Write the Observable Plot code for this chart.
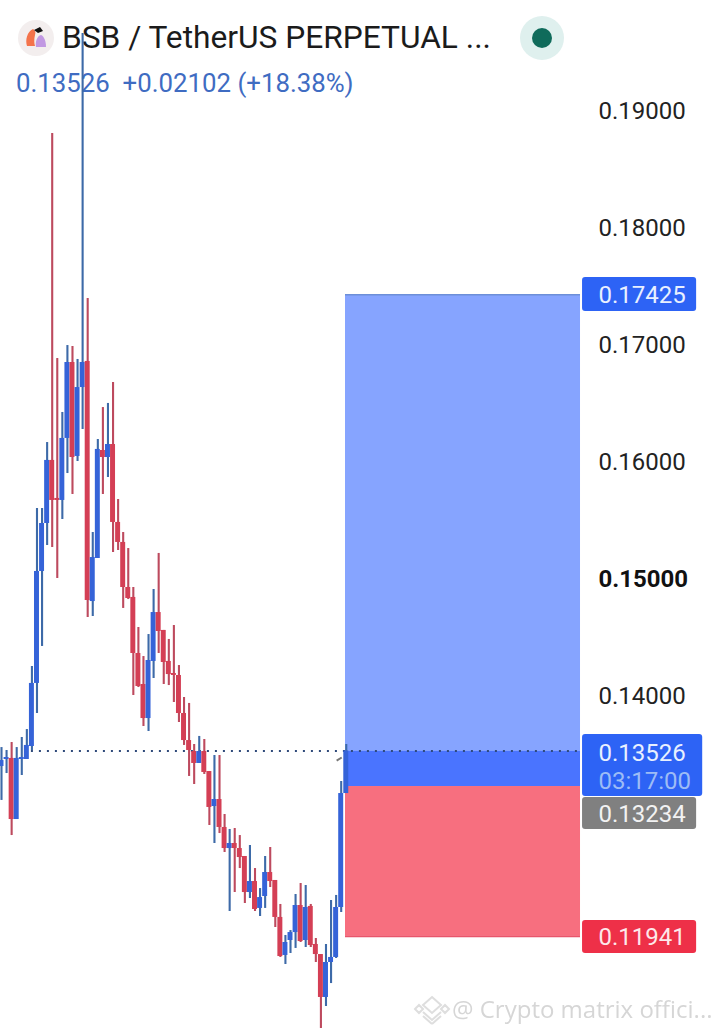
<!DOCTYPE html>
<html>
<head>
<meta charset="utf-8">
<script src="https://cdn.jsdelivr.net/npm/d3@7"></script>
<script src="https://cdn.jsdelivr.net/npm/@observablehq/plot@0.6"></script>
<style>
html,body{margin:0;padding:0;background:#fff;}
#page{position:relative;width:719px;height:1035px;overflow:hidden;font-family:Roboto,sans-serif;}
#chart{position:absolute;left:0;top:0;}
#chart svg{background:transparent;display:block;}
.abs{position:absolute;white-space:nowrap;}
#title{left:62px;top:20px;font-size:31.7px;line-height:36px;color:#1b1b1b;letter-spacing:0;}
#sub{left:16px;top:68px;font-size:25.8px;line-height:30px;color:#3f6cc2;}
#mark{left:452px;top:992px;font-family:"Open Sans",sans-serif;font-size:24px;line-height:34px;color:#d6d6d6;filter:blur(.4px);}
</style>
</head>
<body>
<div id="page">
  <svg class="abs" style="left:0;top:0" width="719" height="1035">
    <circle cx="36" cy="38" r="18" fill="#f3eeee"/>
    <path d="M27 46c-2-6 0-14 6-17 2 1 3 3 2 6-1 4-1 8 0 11z" fill="#f4734b"/>
    <path d="M36 47c-1-5 1-11 5-12 3 1 5 6 5 12z" fill="#c198e2"/>
    <path d="M34 30l6-3 3 4-5 2z" fill="#111"/>
    <circle cx="542" cy="38" r="22" fill="#dff0ee"/>
    <circle cx="542" cy="38" r="10" fill="#0f6b5b"/>
    <g fill="none" stroke="#dedede" stroke-width="2">
      <path d="M432 997l9 8-9 8-9-8z"/>
      <path d="M423 1012l9 8 9-8"/>
      <path d="M432 1024l-9-8M432 1024l9-8"/>
      <path d="M419 1005l4 4-4 4-4-4zM445 1005l4 4-4 4-4-4z"/>
    </g>
  </svg>
  <div id="title" class="abs">BSB / TetherUS PERPETUAL ...</div>
  <div id="sub" class="abs">0.13526&nbsp;&nbsp;+0.02102 (+18.38%)</div>
  <div id="mark" class="abs">@ Crypto matrix offici...</div>
  <div id="chart"></div>
</div>
<script>
const open = [.13393,.13453,.13462,.12940,.13453,.13453,.13564,.14103,.15060,.15470,.16009,.15684,.15667,.16197,.16846,.16043,.16632,.16855,.14803,.15171,.16094,.16034,.16145,.15479,.15308,.14923,.14838,.14359,.14094,.13803,.14291,.14709,.14556,.14291,.14188,.14171,.13846,.13615,.13521,.13419,.13521,.13350,.13051,.13111,.12872,.12692,.12735,.12692,.12624,.12316,.12410,.12180,.12282,.12487,.12419,.12103,.11778,.11906,.11974,.12205,.11906,.12197,.11872,.11786,.11419,.11718,.11761,.12188,.13162];
const high = [.13555,.13530,.13598,.13555,.13641,.13709,.14248,.15598,.15598,.16162,.18803,.16880,.16419,.16991,.16983,.16872,.19658,.17393,.15393,.16188,.16461,.16496,.16675,.15675,.15393,.15256,.14923,.14581,.14333,.14521,.14906,.15214,.14556,.14479,.14598,.14256,.13983,.13932,.13581,.13650,.13624,.13350,.13487,.13487,.12983,.12855,.12863,.12803,.12624,.12718,.12521,.12350,.12624,.12701,.12419,.12214,.11949,.11991,.12299,.12393,.12376,.12214,.11923,.11786,.11872,.12248,.12291,.13265,.13581];
const low = [.13103,.13333,.12803,.12940,.13316,.13453,.13530,.13846,.14419,.15282,.15265,.15000,.15504,.15897,.15718,.16000,.16273,.14667,.14675,.15171,.15718,.15863,.15222,.15239,.14744,.14820,.14000,.14068,.13735,.13692,.14145,.14359,.14094,.14085,.13940,.13769,.13573,.13308,.13239,.13419,.13325,.12889,.12735,.12820,.12658,.12154,.12316,.12521,.12222,.12265,.12154,.12111,.12180,.12359,.12017,.11761,.11701,.11795,.11838,.11889,.11846,.11846,.11718,.11154,.11342,.11538,.11752,.12145,.13162];
const close = [.13444,.13470,.12940,.13462,.13470,.13573,.14103,.15060,.15470,.16009,.15667,.15667,.16197,.16846,.16034,.16632,.16846,.14812,.15179,.16103,.16034,.16145,.15479,.15308,.14923,.14829,.14359,.14077,.13803,.14299,.14709,.14547,.14282,.14179,.14171,.13846,.13615,.13530,.13419,.13521,.13342,.13043,.13111,.12872,.12692,.12735,.12692,.12615,.12316,.12410,.12171,.12273,.12487,.12410,.12103,.11769,.11889,.11974,.12205,.11897,.12188,.11863,.11786,.11419,.11718,.11761,.12188,.13162,.13526];

const axisTicks = [0.19, 0.18, 0.17, 0.16, 0.14];
const boldTicks = [0.15];

const lastPrice = 0.13526, entryDrawn = 0.13222, targetPrice = 0.17425, stopPrice = 0.11941;
const zoneFrom = 67.85, zoneTo = 114.2, tagFrom = 114.6, tagTo = 137.1, tagToWide = 138.3, tagText = 117.75, lastFrom = 5.9;

const zones = [
  {top: targetPrice, bottom: lastPrice, fill: "#86a4ff"},
  {top: lastPrice, bottom: entryDrawn, fill: "#4a74ff"},
  {top: entryDrawn, bottom: stopPrice, fill: "#f76f7f"}
];
const tags = [
  {top: .17573, bottom: .17282, x2: tagTo, fill: "#2d63f5"},
  {top: .13667, bottom: .13137, x2: tagToWide, fill: "#2d63f5"},
  {top: .13128, bottom: .12855, x2: tagTo, fill: "#808080"},
  {top: .12077, bottom: .11795, x2: tagTo, fill: "#ee3048"}
];
const tagTexts = [
  {y: targetPrice, text: "0.17425", fill: "#e8f0ff"},
  {y: .13511, text: "0.13526", fill: "#e8f0ff"},
  {y: .13274, text: "03:17:00", fill: "#9dbcf5"},
  {y: .12991, text: "0.13234", fill: "#f2f2f2"},
  {y: stopPrice, text: "0.11941", fill: "#fde8ea"}
];

const candles = open.map((o, i) => ({
  i, open: o, high: high[i], low: low[i], close: close[i], up: close[i] >= o
}));
const ink = d => d.up ? "#3d6aa8" : "#bd4a5e";
const body = d => d.up ? "#3563d8" : "#d43f55";

const plot = Plot.plot({
  width: 719, height: 1035,
  marginLeft: 0, marginTop: 0, marginBottom: 0, marginRight: 129,
  style: {fontFamily: "Roboto, sans-serif", background: "transparent"},
  x: {domain: [-0.197, 116.17], axis: null},
  y: {domain: [0.11094, 0.19940], label: null},
  marks: [
    Plot.rect(zones, {x1: zoneFrom, x2: zoneTo, y1: "bottom", y2: "top", fill: "fill"}),
    Plot.ruleY([targetPrice], {x1: zoneFrom, x2: zoneTo, stroke: "#6d8fd8", strokeWidth: 1.5}),
    Plot.ruleY([stopPrice], {x1: zoneFrom, x2: zoneTo, stroke: "#e8566b", strokeWidth: 1.5}),
    Plot.ruleY([lastPrice], {x1: lastFrom, x2: zoneTo, stroke: "#2f4a7a", strokeWidth: 2, strokeDasharray: "2,6"}),
    Plot.link([{a: 66.1, b: 67.1, c: .13444, d: .13470}], {x1: "a", x2: "b", y1: "c", y2: "d", stroke: "#777", strokeWidth: 2}),
    Plot.ruleX(candles, {x: "i", y1: "low", y2: "high", stroke: ink, strokeWidth: 2.1}),
    Plot.rect(candles, {
      x1: d => d.i - 0.49, x2: d => d.i + 0.49,
      y1: d => Math.min(d.open, d.close), y2: d => Math.max(d.open, d.close),
      fill: body
    }),
    Plot.rect(tags, {x1: tagFrom, x2: "x2", y1: "bottom", y2: "top", fill: "fill", rx: 3}),
    Plot.text(tagTexts, {x: tagText, y: "y", text: "text", fill: "fill", textAnchor: "start", fontSize: 24, dy: 1}),
    Plot.axisY({anchor: "right", ticks: axisTicks, tickSize: 0, tickPadding: 8, tickFormat: d => d.toFixed(5), fontSize: 24, fill: "#222", label: null, dy: 1}),
    Plot.axisY({anchor: "right", ticks: boldTicks, tickSize: 0, tickPadding: 8, tickFormat: d => d.toFixed(5), fontSize: 24, fontWeight: "bold", fill: "#111", label: null, dy: 1})
  ]
});
document.getElementById("chart").appendChild(plot);
</script>
</body>
</html>
